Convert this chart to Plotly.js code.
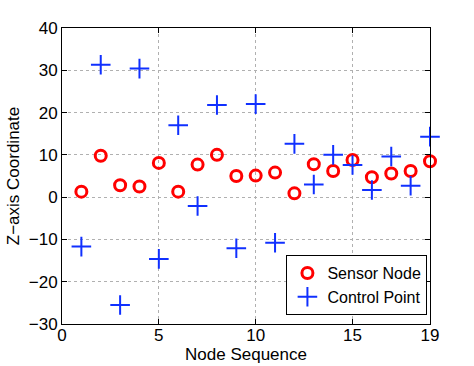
<!DOCTYPE html>
<html><head><meta charset="utf-8">
<script src="https://cdn.plot.ly/plotly-3.0.1.min.js"></script>
<style>html,body{margin:0;padding:0;background:#fff}#chart{width:474px;height:366px}</style>
</head><body><div id="chart"></div>
<script>
const nodeIndex = [1,2,3,4,5,6,7,8,9,10,11,12,13,14,15,16,17,18,19];
const sensorNode = [1.3,9.8,2.8,2.5,8.1,1.3,7.7,10.0,5.0,5.1,5.8,0.9,7.8,6.2,8.8,4.7,5.6,6.2,8.5];
const controlPoint = [-11.7,31.3,-25.5,30.4,-14.6,17.0,-2.1,21.8,-12.1,22.0,-10.8,12.6,3.0,10.0,7.6,1.7,9.6,2.7,14.3];
const xTicks = [0,5,10,15,19];
const yTicks = [-30,-20,-10,0,10,20,30,40];

const font = {family:'Liberation Sans, Arial, sans-serif', size:17, color:'#000'};
const axisBase = {
  showline:true, linecolor:'#000', linewidth:1, mirror:'ticks',
  ticks:'inside', ticklen:5, tickcolor:'#000',
  showgrid:true, gridcolor:'#b0b0b0', griddash:'dot', gridwidth:1,
  zeroline:false, tickfont:font
};
const data = [
  {x:nodeIndex, y:sensorNode, mode:'markers', type:'scatter', name:'Sensor Node', cliponaxis:false,
   marker:{symbol:'circle-open', size:11, color:'#ff0000', line:{width:3, color:'#ff0000'}}},
  {x:nodeIndex, y:controlPoint, mode:'markers', type:'scatter', name:'Control Point', cliponaxis:false,
   marker:{symbol:'cross-thin-open', size:14, color:'#1030ff', line:{width:2, color:'#1030ff'}}}
];
const layout = {
  width:474, height:366,
  margin:{l:62, r:44, t:28, b:42},
  paper_bgcolor:'#fff', plot_bgcolor:'#fff',
  font:font,
  showlegend:true,
  legend:{x:0.993, y:0.03, xanchor:'right', yanchor:'bottom', bordercolor:'#000', borderwidth:1,
          bgcolor:'#fff', font:{family:font.family, size:16, color:'#000'}},
  xaxis:Object.assign({}, axisBase, {range:[0,19], tickvals:xTicks, ticktext:xTicks.map(String),
          ticklabelstandoff:-4,
          title:{text:'Node Sequence', font:font, standoff:2}}),
  yaxis:Object.assign({}, axisBase, {range:[-30,40], tickvals:yTicks, ticktext:yTicks.map(v=>v<0?'\u2212'+Math.abs(v):String(v)),
          title:{text:'Z\u2212axis Coordinate', font:font, standoff:4}})
};
Plotly.newPlot('chart', data, layout, {displayModeBar:false, staticPlot:true});
</script></body></html>
